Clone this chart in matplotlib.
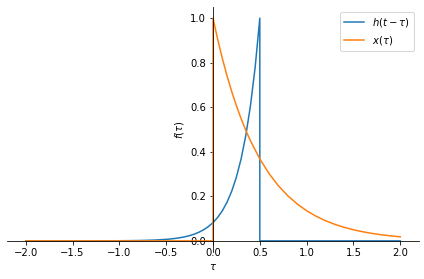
import matplotlib
matplotlib.use("Agg")
import matplotlib.pyplot as plt

# h(t - tau) samples (t = 0.5)
tau_h = [-2.0, -1.5, -1.25, -1.0, -0.9, -0.8, -0.7, -0.6, -0.5, -0.45, -0.4, -0.35, -0.3,
         -0.25, -0.2, -0.15, -0.1, -0.05, 0.0, 0.05, 0.1, 0.15, 0.2, 0.25, 0.3, 0.35,
         0.4, 0.45, 0.5, 0.5, 1.0, 1.5, 2.0]
h_vals = [0.0, 0.00005, 0.0002, 0.0006, 0.0009, 0.0015, 0.0025, 0.0041, 0.0067, 0.0087,
          0.0111, 0.0143, 0.0183, 0.0235, 0.0302, 0.0388, 0.0498, 0.0639, 0.0821, 0.1054,
          0.1353, 0.1738, 0.2231, 0.2865, 0.3679, 0.4724, 0.6065, 0.7788, 1.0, 0.0,
          0.0, 0.0, 0.0]

# x(tau) samples
tau_x = [-2.0, -1.5, -1.0, -0.5, 0.0, 0.0, 0.05, 0.1, 0.15, 0.2, 0.25, 0.3, 0.35, 0.4,
         0.5, 0.6, 0.7, 0.8, 0.9, 1.0, 1.1, 1.2, 1.3, 1.4, 1.5, 1.6, 1.7, 1.8, 1.9, 2.0]
x_vals = [0.0, 0.0, 0.0, 0.0, 0.0, 1.0, 0.9048, 0.8187, 0.7408, 0.6703, 0.6065, 0.5488,
          0.4966, 0.4493, 0.3679, 0.3012, 0.2466, 0.2019, 0.1653, 0.1353, 0.1108, 0.0907,
          0.0743, 0.0608, 0.0498, 0.0408, 0.0334, 0.0273, 0.0224, 0.0183]

labels = [r"$h(t-\tau)$", r"$x(\tau)$"]

fig = plt.figure(figsize=(424 / 72, 279 / 72), dpi=72)
ax = fig.add_axes([7 / 424, 27 / 279, 412 / 424, 245 / 279])

ax.plot(tau_h, h_vals, label=labels[0])
ax.plot(tau_x, x_vals, label=labels[1])

ax.spines["left"].set_position("zero")
ax.spines["bottom"].set_position("zero")
ax.spines["top"].set_visible(False)
ax.spines["right"].set_visible(False)
ax.xaxis.set_ticks_position("bottom")
ax.yaxis.set_ticks_position("left")

ax.set_xlabel(r"$\tau$")
ax.set_ylabel(r"$f(\tau)$")
ax.legend(loc="upper right")

fig.savefig("out.png", dpi=72)
